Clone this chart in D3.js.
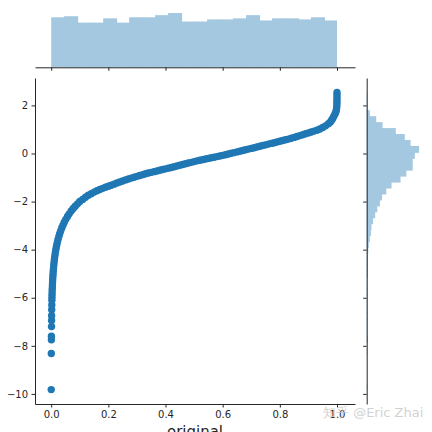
<!DOCTYPE html>
<html>
<head>
<meta charset="utf-8">
<script src="https://cdn.jsdelivr.net/npm/d3@7"></script>
<style>
  html, body { margin: 0; padding: 0; background: #fff; }
  svg { display: block; }
  text { font-family: "DejaVu Sans", sans-serif; }
</style>
</head>
<body>
<svg id="chart" width="432" height="432"></svg>
<script>
// ---------------- data ----------------
const xTicks = [0, 0.2, 0.4, 0.6, 0.8, 1.0];
const yTicks = [-10, -8, -6, -4, -2, 0, 2];
const xLabel = "original";
const watermark = "知乎 @Eric Zhai";

// top marginal histogram of "original" (22 bins over [0, 1])
const xHistRange = [0, 1];
const xHistCounts = [47, 48, 42, 42, 46, 42, 47, 47, 49, 51, 43, 43, 45, 45, 46, 49, 44, 46, 46, 45, 47, 44];

// right marginal histogram of transformed values (50 bins, lowest bin first)
const yHistRange = [-9.82, 2.54];
const yHistCounts = [1,0,0,0,0,0,1,0,2,1, 1,1,1,1,1,1,1,1,1,2, 2,2,2,3,4,6,8,9,12,16,
                     20,25,29,37,47,64,75,87,87,91, 99,83,72,55,30,18,6,1,1,1];

// scatter points
const scatterX = [
  0.0001, 0.0004, 0.0007, 0.0008, 0.0011, 0.0013, 0.0015, 0.0018, 0.0021,
  0.00241, 0.00269, 0.00300, 0.00335, 0.00373, 0.00416, 0.00464, 0.00518, 0.00577, 0.00644,
  0.00718, 0.00801, 0.00893, 0.00996, 0.01111, 0.01239, 0.01381, 0.01541, 0.01718,
  0.01915, 0.02138, 0.02385, 0.02660, 0.02967, 0.03308, 0.03688, 0.04112, 0.04586, 0.05115, 0.05703,
  0.063, 0.070, 0.077, 0.084, 0.092, 0.100, 0.110, 0.120, 0.130, 0.140, 0.150, 0.160, 0.170, 0.180, 0.190, 0.200,
  0.21, 0.22, 0.23, 0.24, 0.25, 0.26, 0.27, 0.28, 0.29, 0.30, 0.31, 0.32, 0.33, 0.34, 0.35, 0.36, 0.37, 0.38, 0.39, 0.40,
  0.41, 0.42, 0.43, 0.44, 0.45, 0.46, 0.47, 0.48, 0.49, 0.50, 0.51, 0.52, 0.53, 0.54, 0.55, 0.56, 0.57, 0.58, 0.59, 0.60,
  0.61, 0.62, 0.63, 0.64, 0.65, 0.66, 0.67, 0.68, 0.69, 0.70, 0.71, 0.72, 0.73, 0.74, 0.75, 0.76, 0.77, 0.78, 0.79, 0.80,
  0.81, 0.82, 0.83, 0.84, 0.85, 0.86, 0.87, 0.88, 0.89, 0.90, 0.91, 0.92, 0.93, 0.94, 0.95, 0.96, 0.97,
  0.977, 0.981, 0.985, 0.989, 0.993, 0.996, 0.998, 0.999, 0.9995, 0.9997, 0.9998, 0.9999, 1.0, 1.0
];
const scatterY = [
  -9.82, -8.32, -7.75, -7.60, -7.20, -6.95, -6.75, -6.50, -6.30,
  -6.10, -5.98, -5.86, -5.74, -5.62, -5.50, -5.38, -5.26, -5.14, -5.02,
  -4.90, -4.78, -4.66, -4.54, -4.42, -4.30, -4.18, -4.06, -3.94,
  -3.82, -3.70, -3.58, -3.46, -3.34, -3.22, -3.10, -2.98, -2.86, -2.74, -2.62,
  -2.51, -2.395, -2.29, -2.195, -2.095, -2.00, -1.91, -1.82, -1.74, -1.67, -1.605, -1.55, -1.50, -1.45, -1.405, -1.36,
  -1.319, -1.275, -1.23, -1.186, -1.142, -1.098, -1.059, -1.023, -0.987, -0.951, -0.916, -0.88, -0.844, -0.813, -0.784, -0.755, -0.726, -0.697, -0.667, -0.638,
  -0.609, -0.58, -0.551, -0.52, -0.49, -0.459, -0.429, -0.398, -0.368, -0.337, -0.307, -0.282, -0.256, -0.231, -0.205, -0.18, -0.154, -0.129, -0.103, -0.078,
  -0.05, -0.021, 0.008, 0.038, 0.067, 0.096, 0.125, 0.154, 0.183, 0.212, 0.241, 0.27, 0.30, 0.33, 0.36, 0.39, 0.42, 0.449, 0.479, 0.509,
  0.539, 0.569, 0.599, 0.631, 0.669, 0.706, 0.744, 0.782, 0.819, 0.857, 0.895, 0.932, 0.97, 1.02, 1.08, 1.15, 1.24,
  1.31, 1.38, 1.46, 1.55, 1.64, 1.73, 1.82, 1.92, 2.02, 2.12, 2.22, 2.32, 2.43, 2.54
];

// ---------------- layout ----------------
const svg = d3.select("#chart");
const ink = "#262626";
const blue = "#1f77b4";
const histFill = "#a5c8e1"; // blue at 40% on white

const main = { left: 35, right: 355, top: 78, bottom: 404 };
const topM = { top: 10.3, bottom: 67.3 };
const rightM = { left: 366.7, right: 421.7 };

const x = d3.scaleLinear().domain([-0.05668, 1.06298]).range([main.left, main.right]);
const y = d3.scaleLinear().domain([-10.42, 3.14]).range([main.bottom, main.top]);

const xCountMax = d3.max(xHistCounts) * 1.05;
const yCountMax = d3.max(yHistCounts) * 1.05;
const cTop = d3.scaleLinear().domain([0, xCountMax]).range([topM.bottom, topM.top]);
const cRight = d3.scaleLinear().domain([0, yCountMax]).range([rightM.left, rightM.right]);

// ---------------- top histogram ----------------
const xBinW = (xHistRange[1] - xHistRange[0]) / xHistCounts.length;
svg.append("g")
  .selectAll("rect").data(xHistCounts).join("rect")
  .attr("x", (d, i) => x(xHistRange[0] + i * xBinW))
  .attr("width", (d, i) => x(xHistRange[0] + (i + 1) * xBinW) - x(xHistRange[0] + i * xBinW) + (i < xHistCounts.length - 1 ? 1 : 0))
  .attr("y", d => cTop(d))
  .attr("height", d => cTop(0) - cTop(d))
  .attr("fill", histFill);

// ---------------- right histogram ----------------
const yBinW = (yHistRange[1] - yHistRange[0]) / yHistCounts.length;
svg.append("g")
  .selectAll("rect").data(yHistCounts).join("rect")
  .attr("x", cRight(0))
  .attr("width", d => cRight(d) - cRight(0))
  .attr("y", (d, i) => y(yHistRange[0] + (i + 1) * yBinW))
  .attr("height", (d, i) => y(yHistRange[0] + i * yBinW) - y(yHistRange[0] + (i + 1) * yBinW) + (i > 0 ? 1 : 0))
  .attr("fill", histFill);

// ---------------- scatter ----------------
const pts = scatterX.map((v, i) => ({ x: v, y: scatterY[i] }));
svg.append("g").selectAll("circle").data(pts).join("circle")
  .attr("cx", d => x(d.x))
  .attr("cy", d => y(d.y))
  .attr("r", 3.7)
  .attr("fill", blue);

// ---------------- axes ----------------
function styleAxis(g) {
  g.selectAll(".domain").attr("stroke", ink).attr("stroke-width", 1);
  g.selectAll(".tick line").attr("stroke", ink).attr("stroke-width", 1);
  g.selectAll(".tick text").attr("fill", ink).attr("font-size", "10px")
    .attr("font-family", "DejaVu Sans, sans-serif");
}

svg.append("g").attr("transform", `translate(0,${main.bottom})`)
  .call(d3.axisBottom(x).tickValues(xTicks).tickFormat(d3.format(".1f"))
    .tickSize(3.5).tickPadding(3.5).tickSizeOuter(0))
  .call(styleAxis);

svg.append("g").attr("transform", `translate(${main.left},0)`)
  .call(d3.axisLeft(y).tickValues(yTicks).tickFormat(d3.format("d"))
    .tickSize(3.5).tickPadding(3.5).tickSizeOuter(0))
  .call(styleAxis);

// top marginal: bottom spine only
svg.append("g").attr("transform", `translate(0,${topM.bottom})`)
  .call(d3.axisBottom(x).tickValues(xTicks).tickFormat("")
    .tickSize(3.5).tickSizeOuter(0))
  .call(styleAxis);

// right marginal: left spine only
svg.append("g").attr("transform", `translate(${rightM.left},0)`)
  .call(d3.axisLeft(y).tickValues(yTicks).tickFormat("")
    .tickSize(3.5).tickSizeOuter(0))
  .call(styleAxis);

// ---------------- labels ----------------
svg.append("text")
  .attr("x", (main.left + main.right) / 2)
  .attr("y", 437)
  .attr("text-anchor", "middle")
  .attr("font-size", "15px")
  .attr("fill", ink)
  .text(xLabel);

svg.append("text")
  .attr("x", 323)
  .attr("y", 417)
  .attr("font-size", "13px")
  .attr("font-family", "Noto Sans CJK SC, DejaVu Sans, sans-serif")
  .attr("fill", "#c9c9c9")
  .attr("fill-opacity", 0.85)
  .text(watermark);
</script>
</body>
</html>
